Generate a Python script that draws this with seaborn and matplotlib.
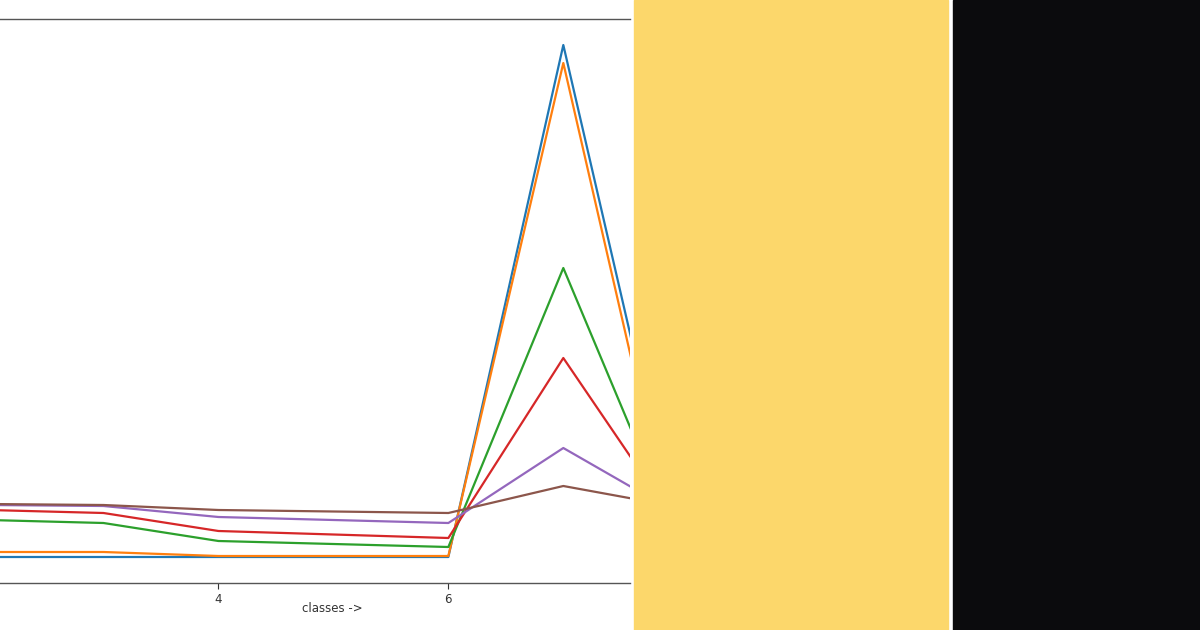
import numpy as np
import pandas as pd
import matplotlib
matplotlib.use("Agg")
import matplotlib.pyplot as plt
import seaborn as sns

# class positions and per-series values
classes = [2, 3, 4, 6, 7, 8]
s_blue = [26, 26, 26, 26, 538, 41]
s_orange = [31, 31, 27, 27, 520, 20]
s_green = [63, 60, 42, 36, 315, 41]
s_red = [73, 70, 52, 45, 225, 56]
s_purple = [78, 77, 66, 60, 135, 69]
s_brown = [79, 78, 73, 70, 97, 76]
series_names = ["a", "b", "c", "d", "e", "f"]

df = pd.concat([
    pd.DataFrame({"classes": classes, "value": v, "series": n})
    for n, v in zip(series_names, [s_blue, s_orange, s_green, s_red, s_purple, s_brown])
])

sns.set_style("white")
fig = plt.figure(figsize=(12, 6.3), dpi=100)
ax = fig.add_axes([0, 47 / 630, 630 / 1200, 564 / 630])
sns.lineplot(data=df, x="classes", y="value", hue="series",
             palette=sns.color_palette("tab10", 6), linewidth=1.6, legend=False, ax=ax)
ax.set_xlim(2.1, 7.58)
ax.set_ylim(0, 564)
ax.set_xticks([4, 6])
ax.set_yticks([])
ax.set_ylabel("")
ax.set_xlabel("classes ->", fontsize=8.5, color="#333333", labelpad=1)
ax.xaxis.set_label_coords(332 / 630, -0.033)
ax.tick_params(axis="x", labelsize=8.5, colors="#333333", length=4, direction="out", bottom=True)
for side in ["left", "right"]:
    ax.spines[side].set_visible(False)
for side in ["top", "bottom"]:
    ax.spines[side].set_color("#555555")
    ax.spines[side].set_linewidth(1)

# yellow and black side panels
fig.patches.append(plt.Rectangle((634 / 1200, 0), 314 / 1200, 1, transform=fig.transFigure,
                                 color="#fcd76b", zorder=5))
fig.patches.append(plt.Rectangle((953 / 1200, 0), 247 / 1200, 1, transform=fig.transFigure,
                                 color="#0b0b0d", zorder=5))

fig.savefig("out.png", dpi=100)
